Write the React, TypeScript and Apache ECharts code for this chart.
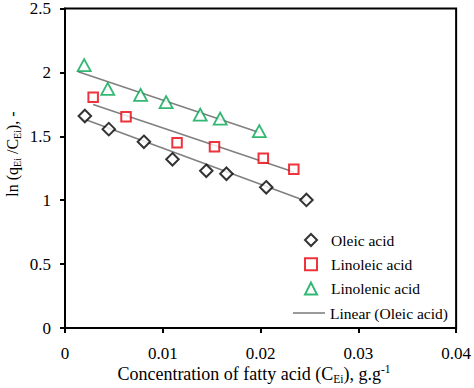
import React, { useEffect, useRef } from "react";
import * as echarts from "echarts";

const oleicX = [0.00203, 0.00448, 0.00807, 0.01099, 0.01445, 0.01651, 0.02058, 0.02469];
const oleicY = [1.659, 1.556, 1.457, 1.32, 1.23, 1.207, 1.101, 1.002];
const linoleicX = [0.00288, 0.00624, 0.01146, 0.01529, 0.02028, 0.0234];
const linoleicY = [1.806, 1.653, 1.45, 1.419, 1.328, 1.243];
const linolenicX = [0.00196, 0.00437, 0.00773, 0.01034, 0.01383, 0.01587, 0.01987];
const linolenicY = [2.057, 1.871, 1.824, 1.767, 1.669, 1.638, 1.54];

// trend line endpoints
const oleicFitX = [0.002, 0.0247];
const oleicFitY = [1.633, 0.992];
const linoleicFitX = [0.00288, 0.0234];
const linoleicFitY = [1.749, 1.22];
const linolenicFitX = [0.00135, 0.01987];
const linolenicFitY = [2.005, 1.53];

const xTicks = [0, 0.01, 0.02, 0.03, 0.04];
const yTicks = [0, 0.5, 1, 1.5, 2, 2.5];

const markerNames = ["Oleic acid", "Linoleic acid", "Linolenic acid"];
const fitName = "Linear (Oleic acid)";

const zip = (xs: number[], ys: number[]) => xs.map((x, i) => [x, ys[i]]);

const FONT = "serif";

export default function App() {
  const ref = useRef<HTMLDivElement>(null);
  useEffect(() => {
    if (!ref.current) return;
    const chart = echarts.init(ref.current, null, { renderer: "svg" });
    const lineStyle = { color: "#808080", width: 1.6 };
    const legendText = { fontFamily: FONT, fontSize: 15.5, color: "#000" };
    chart.setOption({
      animation: false,
      backgroundColor: "#ffffff",
      textStyle: { fontFamily: FONT },
      grid: {
        left: 65,
        top: 5,
        width: 393,
        height: 323,
        show: true,
        borderColor: "#000",
        borderWidth: 2,
        backgroundColor: "transparent",
      },
      xAxis: {
        type: "value",
        min: xTicks[0],
        max: xTicks[xTicks.length - 1],
        interval: 0.01,
        axisLine: { show: true, lineStyle: { color: "#000", width: 2 } },
        axisTick: { show: true, inside: false, length: 5, lineStyle: { color: "#000", width: 2 } },
        splitLine: { show: false },
        axisLabel: {
          margin: 17,
          color: "#000",
          fontSize: 17,
          fontFamily: FONT,
          formatter: (v: number) => String(+v.toFixed(2)),
        },
      },
      yAxis: {
        type: "value",
        min: yTicks[0],
        max: yTicks[yTicks.length - 1],
        interval: 0.5,
        axisLine: { show: true, lineStyle: { color: "#000", width: 2 } },
        axisTick: { show: true, inside: false, length: 5, lineStyle: { color: "#000", width: 2 } },
        splitLine: { show: false },
        axisLabel: {
          margin: 14,
          color: "#000",
          fontSize: 17,
          fontFamily: FONT,
          formatter: (v: number) => String(+v.toFixed(2)),
        },
      },
      legend: [
        {
          data: markerNames,
          orient: "vertical",
          left: 304,
          top: 232,
          padding: 0,
          itemWidth: 12,
          itemHeight: 12,
          itemGap: 8.3,
          textStyle: { ...legendText, padding: [0, 0, 0, 9] },
        },
        {
          data: [{ name: fitName, icon: "path://M0,0h32v1.6H0z" }],
          orient: "vertical",
          left: 293,
          top: 305,
          padding: 0,
          itemWidth: 32,
          itemHeight: 12,
          textStyle: legendText,
        },
      ],
      graphic: [
        {
          type: "text",
          x: 12,
          y: 154,
          rotation: Math.PI / 2,
          style: {
            text: "{n|ln (q}{s|Ei}{n| /C}{s|Ei}{n|), -}",
            align: "center",
            verticalAlign: "middle",
            rich: {
              n: { fontFamily: FONT, fontSize: 16, fill: "#000", lineHeight: 20, verticalAlign: "middle" },
              s: { fontFamily: FONT, fontSize: 10, fill: "#000", lineHeight: 20, verticalAlign: "bottom" },
            },
          },
        },
        {
          type: "text",
          x: 254,
          y: 374,
          style: {
            text: "{n|Concentration of fatty acid (C}{s|Ei}{n|), g.g}{p|-1}",
            align: "center",
            verticalAlign: "middle",
            rich: {
              n: { fontFamily: FONT, fontSize: 18, fill: "#000", lineHeight: 22, verticalAlign: "middle" },
              s: { fontFamily: FONT, fontSize: 11.5, fill: "#000", lineHeight: 22, verticalAlign: "bottom" },
              p: { fontFamily: FONT, fontSize: 11.5, fill: "#000", lineHeight: 22, verticalAlign: "top" },
            },
          },
        },
      ],
      series: [
        {
          name: fitName,
          type: "line",
          data: zip(oleicFitX, oleicFitY),
          symbol: "none",
          lineStyle,
          itemStyle: { color: "#808080" },
          z: 1,
        },
        {
          name: "fit2",
          type: "line",
          data: zip(linoleicFitX, linoleicFitY),
          symbol: "none",
          lineStyle,
          itemStyle: { color: "#808080" },
          z: 1,
        },
        {
          name: "fit3",
          type: "line",
          data: zip(linolenicFitX, linolenicFitY),
          symbol: "none",
          lineStyle,
          itemStyle: { color: "#808080" },
          z: 1,
        },
        {
          name: markerNames[0],
          type: "scatter",
          data: zip(oleicX, oleicY),
          symbol: "diamond",
          symbolSize: 12.5,
          itemStyle: { color: "#fff", borderColor: "#000", borderWidth: 2 },
          z: 3,
        },
        {
          name: markerNames[1],
          type: "scatter",
          data: zip(linoleicX, linoleicY),
          symbol: "rect",
          symbolSize: 9.5,
          itemStyle: { color: "#fff", borderColor: "#e8000b", borderWidth: 2 },
          z: 3,
        },
        {
          name: markerNames[2],
          type: "scatter",
          data: zip(linolenicX, linolenicY),
          symbol: "triangle",
          symbolSize: [13, 12],
          itemStyle: { color: "#fff", borderColor: "#00a651", borderWidth: 1.8 },
          z: 3,
        },
      ],
    });
    return () => chart.dispose();
  }, []);
  return (
    <div
      ref={ref}
      style={{ position: "fixed", left: 0, top: 0, width: 474, height: 388, background: "#fff" }}
    />
  );
}
